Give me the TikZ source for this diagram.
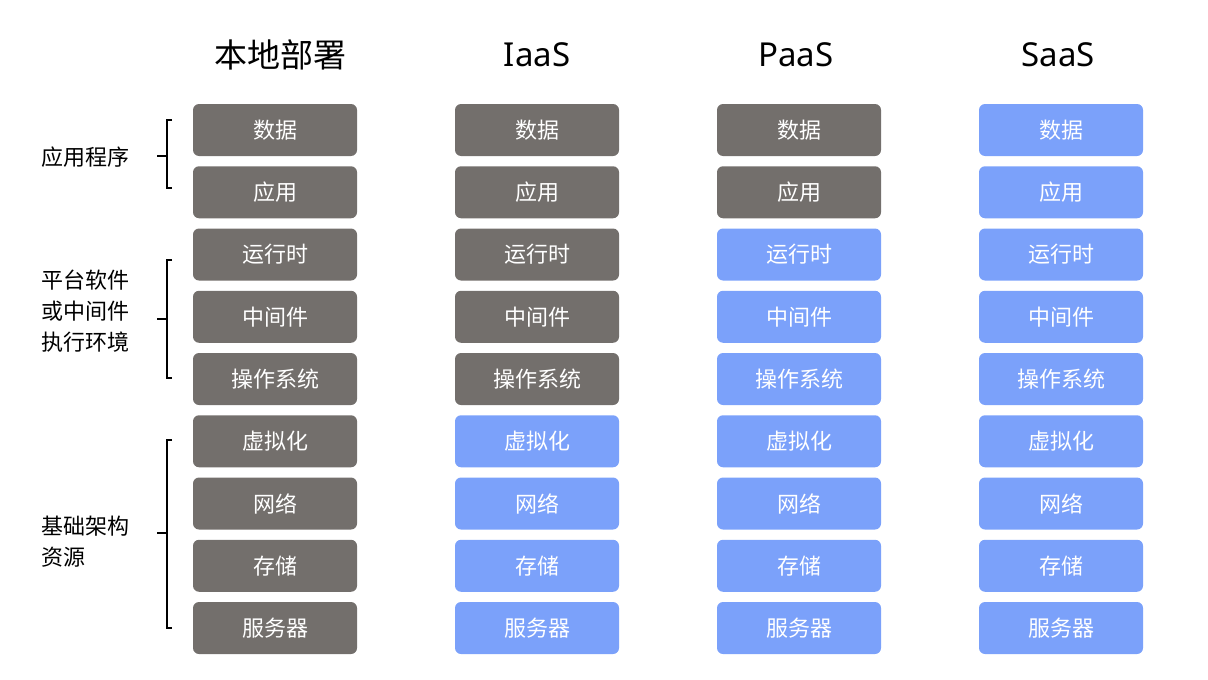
\documentclass[tikz,border=0pt]{standalone}
\usepackage{fontspec}
\newfontfamily\cjk{Noto Sans CJK SC}
\setmainfont{Noto Sans}
\definecolor{gr}{HTML}{736F6C}
\definecolor{bl}{HTML}{7BA1FA}
\begin{document}
\begin{tikzpicture}[x=1pt,y=-1pt,
 box/.style={rounded corners=6pt,minimum width=164pt,minimum height=52pt,inner sep=0,text=white,font=\cjk\fontsize{22}{24}\selectfont},
 g/.style={box,fill=gr}, b/.style={box,fill=bl},
 hd/.style={font=\fontsize{33}{36}\selectfont},
 lab/.style={font=\cjk\fontsize{22}{31}\selectfont,align=left,anchor=west},
 br/.style={line width=1.3pt}]
\useasboundingbox (0,0) rectangle (1208,680);
\node[hd,font=\cjk\fontsize{33}{36}\selectfont] (h1) at (280,55) {本地部署};
\node[hd] (h2) at (537,55) {IaaS};
\node[hd] (h3) at (796,55) {PaaS};
\node[hd] (h4) at (1058,55) {SaaS};
\def\rows{{"数据","应用","运行时","中间件","操作系统","虚拟化","网络","存储","服务器"}}
\foreach \t [count=\i from 0] in {数据,应用,运行时,中间件,操作系统,虚拟化,网络,存储,服务器}{
 \pgfmathsetmacro\yy{130+62.25*\i}
 \node[g] (a\i) at (275,\yy) {\t};
 \ifnum\i<5 \node[g] (b\i) at (537,\yy) {\t}; \else \node[b] (b\i) at (537,\yy) {\t}; \fi
 \ifnum\i<2 \node[g] (c\i) at (799,\yy) {\t}; \else \node[b] (c\i) at (799,\yy) {\t}; \fi
 \node[b] (d\i) at (1061,\yy) {\t};
}
\node[lab] (l1) at (38,157) {应用程序};
\node[lab] (l2) at (38,311) {平台软件\\或中间件\\执行环境};
\node[lab] (l3) at (38,542) {基础架构\\资源};
\draw[br] (172,120) -- (167,120) -- (167,188) -- (172,188);
\draw[br] (157,156) -- (167,156);
\draw[br] (172,260) -- (167,260) -- (167,378) -- (172,378);
\draw[br] (157,319) -- (167,319);
\draw[br] (172,440) -- (167,440) -- (167,628) -- (172,628);
\draw[br] (157,533) -- (167,533);
\end{tikzpicture}
\end{document}
